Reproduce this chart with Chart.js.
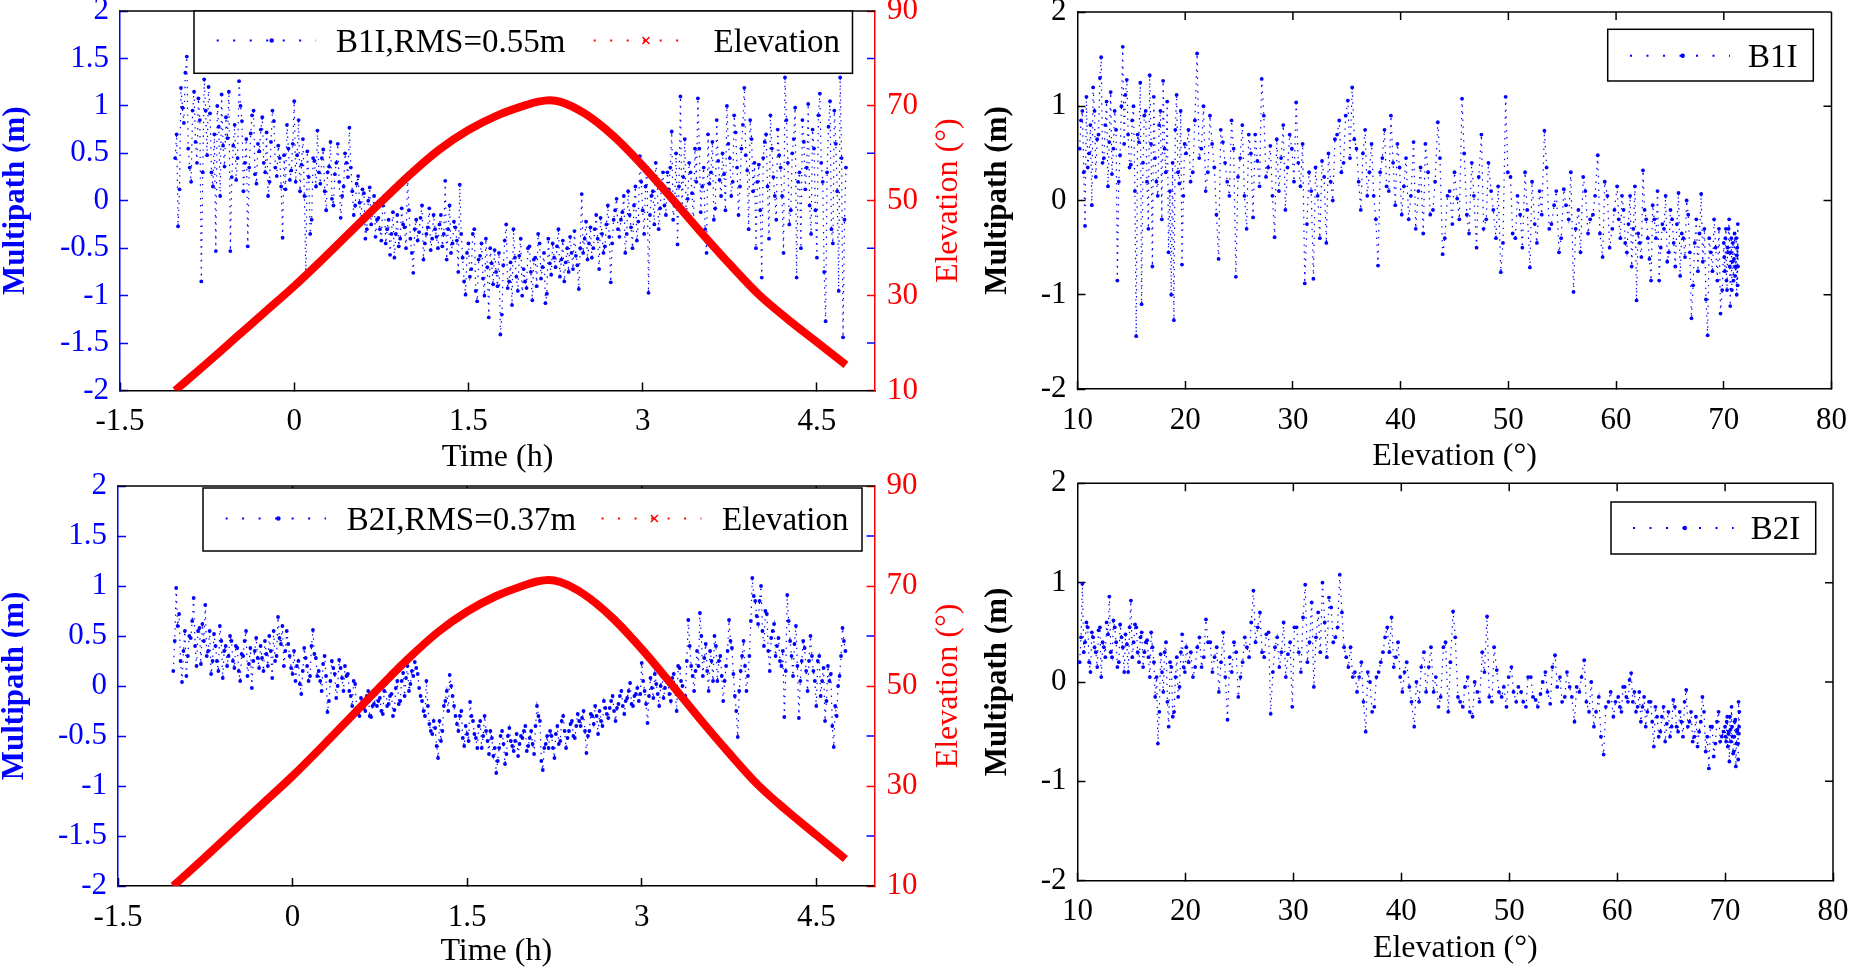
<!DOCTYPE html>
<html>
<head>
<meta charset="utf-8">
<title>B1I / B2I multipath vs time and elevation</title>
<script src="https://cdn.jsdelivr.net/npm/chart.js"></script>
<style>
  body { margin: 0; background: #fff; }
  #fig { position: relative; width: 1850px; height: 969px; overflow: hidden; background: #fff; }
  #fig canvas { position: absolute; }
</style>
</head>
<body>
<div id="fig">
  <canvas id="c1" width="975" height="480" style="left:0px;top:0px"></canvas>
  <canvas id="c2" width="875" height="480" style="left:975px;top:0px"></canvas>
  <canvas id="c3" width="975" height="499" style="left:0px;top:470px"></canvas>
  <canvas id="c4" width="875" height="499" style="left:975px;top:470px"></canvas>
</div>
<script>
// ---- tick labels ----
const timeTicks = [-1.5, 0, 1.5, 3, 4.5];
const elevXTicks = [10, 20, 30, 40, 50, 60, 70, 80];
const mpTicksTime = [-2, -1.5, -1, -0.5, 0, 0.5, 1, 1.5, 2];
const mpTicksElev = [-2, -1, 0, 1, 2];
const elevAxisTicks = [10, 30, 50, 70, 90];

// ---- elevation of the satellite pass (deg) vs time (h) ----
const elevCurveTime = [-1.025, -0.75, -0.5, -0.25, 0, 0.25, 0.5, 0.75, 1, 1.25, 1.5, 1.75, 2, 2.1, 2.2, 2.3, 2.5, 2.75, 3, 3.25, 3.5, 3.75, 4, 4.25, 4.5, 4.75];
const elevCurveDeg = [10, 15.8, 21.2, 26.6, 32.0, 37.8, 43.8, 49.8, 55.6, 60.8, 64.9, 68.0, 70.2, 70.9, 71.2, 70.8, 68.4, 63.6, 57.4, 50.5, 43.4, 36.6, 30.2, 25.0, 20.2, 15.4];

// ---- epochs (h), two interleaved sets ----
const epochTime = [
  -1.025,-1,-0.975,-0.95,-0.925,-0.9,-0.875,-0.85,-0.825,-0.8,
  -0.775,-0.75,-0.725,-0.7,-0.675,-0.65,-0.625,-0.6,-0.575,-0.55,
  -0.525,-0.5,-0.475,-0.45,-0.425,-0.4,-0.375,-0.35,-0.325,-0.3,
  -0.275,-0.25,-0.225,-0.2,-0.175,-0.15,-0.125,-0.1,-0.075,-0.05,
  -0.025,0,0.025,0.05,0.075,0.1,0.125,0.15,0.175,0.2,
  0.225,0.25,0.275,0.3,0.325,0.35,0.375,0.4,0.425,0.45,
  0.475,0.5,0.525,0.55,0.575,0.6,0.625,0.65,0.675,0.7,
  0.725,0.75,0.775,0.8,0.825,0.85,0.875,0.9,0.925,0.95,
  0.975,1,1.025,1.05,1.075,1.1,1.125,1.15,1.175,1.2,
  1.225,1.25,1.275,1.3,1.325,1.35,1.375,1.4,1.425,1.45,
  1.475,1.5,1.525,1.55,1.575,1.6,1.625,1.65,1.675,1.7,
  1.725,1.75,1.775,1.8,1.825,1.85,1.875,1.9,1.925,1.95,
  1.975,2,2.025,2.05,2.075,2.1,2.125,2.15,2.175,2.2,
  2.225,2.25,2.275,2.3,2.325,2.35,2.375,2.4,2.425,2.45,
  2.475,2.5,2.525,2.55,2.575,2.6,2.625,2.65,2.675,2.7,
  2.725,2.75,2.775,2.8,2.825,2.85,2.875,2.9,2.925,2.95,
  2.975,3,3.025,3.05,3.075,3.1,3.125,3.15,3.175,3.2,
  3.225,3.25,3.275,3.3,3.325,3.35,3.375,3.4,3.425,3.45,
  3.475,3.5,3.525,3.55,3.575,3.6,3.625,3.65,3.675,3.7,
  3.725,3.75,3.775,3.8,3.825,3.85,3.875,3.9,3.925,3.95,
  3.975,4,4.025,4.05,4.075,4.1,4.125,4.15,4.175,4.2,
  4.225,4.25,4.275,4.3,4.325,4.35,4.375,4.4,4.425,4.45,
  4.475,4.5,4.525,4.55,4.575,4.6,4.625,4.65,4.675,4.7,
  4.725,4.75
];
const epochTimeB = [
  -1.0125,-0.9875,-0.9625,-0.9375,-0.9125,-0.8875,-0.8625,-0.8375,-0.8125,-0.7875,
  -0.7625,-0.7375,-0.7125,-0.6875,-0.6625,-0.6375,-0.6125,-0.5875,-0.5625,-0.5375,
  -0.5125,-0.4875,-0.4625,-0.4375,-0.4125,-0.3875,-0.3625,-0.3375,-0.3125,-0.2875,
  -0.2625,-0.2375,-0.2125,-0.1875,-0.1625,-0.1375,-0.1125,-0.0875,-0.0625,-0.0375,
  -0.0125,0.0125,0.0375,0.0625,0.0875,0.1125,0.1375,0.1625,0.1875,0.2125,
  0.2375,0.2625,0.2875,0.3125,0.3375,0.3625,0.3875,0.4125,0.4375,0.4625,
  0.4875,0.5125,0.5375,0.5625,0.5875,0.6125,0.6375,0.6625,0.6875,0.7125,
  0.7375,0.7625,0.7875,0.8125,0.8375,0.8625,0.8875,0.9125,0.9375,0.9625,
  0.9875,1.0125,1.0375,1.0625,1.0875,1.1125,1.1375,1.1625,1.1875,1.2125,
  1.2375,1.2625,1.2875,1.3125,1.3375,1.3625,1.3875,1.4125,1.4375,1.4625,
  1.4875,1.5125,1.5375,1.5625,1.5875,1.6125,1.6375,1.6625,1.6875,1.7125,
  1.7375,1.7625,1.7875,1.8125,1.8375,1.8625,1.8875,1.9125,1.9375,1.9625,
  1.9875,2.0125,2.0375,2.0625,2.0875,2.1125,2.1375,2.1625,2.1875,2.2125,
  2.2375,2.2625,2.2875,2.3125,2.3375,2.3625,2.3875,2.4125,2.4375,2.4625,
  2.4875,2.5125,2.5375,2.5625,2.5875,2.6125,2.6375,2.6625,2.6875,2.7125,
  2.7375,2.7625,2.7875,2.8125,2.8375,2.8625,2.8875,2.9125,2.9375,2.9625,
  2.9875,3.0125,3.0375,3.0625,3.0875,3.1125,3.1375,3.1625,3.1875,3.2125,
  3.2375,3.2625,3.2875,3.3125,3.3375,3.3625,3.3875,3.4125,3.4375,3.4625,
  3.4875,3.5125,3.5375,3.5625,3.5875,3.6125,3.6375,3.6625,3.6875,3.7125,
  3.7375,3.7625,3.7875,3.8125,3.8375,3.8625,3.8875,3.9125,3.9375,3.9625,
  3.9875,4.0125,4.0375,4.0625,4.0875,4.1125,4.1375,4.1625,4.1875,4.2125,
  4.2375,4.2625,4.2875,4.3125,4.3375,4.3625,4.3875,4.4125,4.4375,4.4625,
  4.4875,4.5125,4.5375,4.5625,4.5875,4.6125,4.6375,4.6625,4.6875,4.7125,
  4.7375
];

// ---- B1I multipath (m) vs time ----
const b1iByTime = [
  0.45,-0.27,1.19,0.82,1.52,0.35,0.95,0.62,1.08,-0.85,
  1.28,0.48,0.92,0.15,-0.53,0.78,1.12,0.36,0.66,-0.53,
  0.58,0.22,1.26,0.84,0.40,-0.48,0.71,0.95,0.18,0.52,
  0.88,0.30,0.05,0.62,0.84,0.26,0.45,-0.39,0.12,0.55,
  0.32,1.05,0.48,0.10,0.65,-0.81,0.25,-0.20,0.42,0.74,
  0.18,0.54,-0.10,0.36,0.02,0.28,0.60,-0.18,0.15,0.40,
  0.77,0.10,-0.05,0.26,-0.22,0.08,-0.30,0.14,-0.12,-0.38,
  -0.18,-0.42,0.05,-0.30,-0.57,-0.12,-0.35,-0.48,-0.08,-0.28,
  0.28,-0.40,-0.76,-0.20,-0.33,-0.05,-0.45,-0.28,-0.52,-0.15,
  -0.38,-0.25,-0.48,0.21,-0.30,-0.55,-0.22,-0.42,0.17,-0.60,
  -0.99,-0.45,-0.72,-0.30,-1.06,-0.58,-0.82,-0.40,-1.23,-0.66,
  -0.52,-0.90,-1.41,-0.68,-0.25,-0.85,-1.10,-0.60,-0.95,-0.40,
  -0.72,-0.92,-0.48,-1.05,-0.60,-0.35,-0.82,-0.55,-0.98,-0.66,
  -0.45,-0.70,-0.30,-0.62,-0.85,-0.50,-0.38,-0.72,-0.58,-0.93,
  0.07,-0.40,-0.62,-0.28,-0.50,-0.15,-0.72,-0.35,-0.48,-0.05,
  -0.86,-0.20,0.02,-0.38,-0.12,-0.55,0.10,-0.28,-0.05,-0.42,
  0.47,-0.10,0.15,-0.97,0.05,-0.25,0.22,-0.08,0.30,-0.15,
  0.12,0.73,-0.05,-0.46,1.10,0.25,-0.18,0.40,0.08,0.55,
  1.08,-0.12,0.35,-0.55,0.18,0.62,-0.08,0.42,0.05,0.28,
  1.00,0.45,0.20,0.72,-0.15,0.55,1.19,0.32,0.85,0.10,
  -0.50,0.38,-0.81,0.62,0.15,0.90,0.25,-0.20,0.48,0.05,
  1.30,0.40,-0.10,0.65,-0.81,0.30,0.85,0.12,1.02,-0.35,
  0.55,-0.60,1.13,0.20,-1.27,0.78,-0.30,0.95,0.10,1.30,
  -1.44,0.35
];
const b1iByTimeB = [
  0.70,0.12,0.98,1.35,0.55,0.20,1.15,0.40,0.85,0.30,
  0.95,1.20,0.30,0.70,1.00,0.05,0.58,0.88,1.15,0.25,
  0.80,0.45,1.00,0.10,0.65,0.35,0.90,0.28,0.60,0.75,
  0.40,0.72,0.20,0.95,0.35,0.58,0.15,0.48,0.80,0.22,
  0.60,0.20,0.85,0.38,0.05,0.52,-0.35,0.45,0.15,0.30,
  0.45,0.10,0.30,0.62,-0.05,0.40,0.20,0.05,0.50,0.25,
  0.35,-0.15,0.18,-0.02,0.12,-0.40,0.00,-0.25,0.05,-0.20,
  -0.30,-0.05,-0.45,-0.20,-0.35,-0.60,-0.15,-0.40,-0.25,-0.50,
  -0.10,-0.55,-0.30,-0.42,-0.18,-0.62,-0.35,-0.08,-0.40,-0.30,
  -0.50,-0.15,-0.35,-0.62,-0.05,-0.45,-0.28,-0.75,-0.35,-0.85,
  -0.55,-0.80,-0.35,-0.95,-0.62,-0.45,-1.00,-0.70,-0.50,-0.88,
  -0.75,-0.55,-1.20,-0.42,-0.92,-0.65,-0.30,-0.80,-0.58,-1.00,
  -0.85,-0.50,-0.75,-0.62,-0.90,-0.45,-0.70,-1.08,-0.40,-0.78,
  -0.60,-0.48,-0.80,-0.42,-0.65,-0.75,-0.55,-0.32,-0.68,-0.50,
  -0.55,-0.22,-0.45,-0.60,-0.30,-0.40,-0.18,-0.55,-0.25,-0.38,
  -0.45,-0.10,-0.30,-0.20,0.05,-0.35,-0.15,-0.50,0.15,-0.22,
  0.20,-0.35,0.35,-0.15,0.10,0.40,-0.30,0.18,-0.05,0.30,
  0.35,-0.20,0.50,0.15,-0.10,0.65,0.02,0.30,-0.25,0.20,
  0.55,0.15,-0.30,0.70,0.30,-0.20,0.85,0.22,0.50,-0.10,
  0.60,0.05,0.90,0.35,0.15,0.80,0.48,-0.30,0.65,0.40,
  0.20,-0.10,0.45,0.70,-0.40,0.55,0.05,0.75,0.35,-0.55,
  0.85,-0.25,0.50,0.98,0.20,-0.50,0.62,0.35,-0.05,0.75,
  -0.10,0.90,0.40,-0.75,0.30,1.05,-0.45,0.60,-0.95,0.45,
  -0.20
];

// ---- B2I multipath (m) vs time ----
const b2iByTime = [
  0.15,0.98,0.72,0.04,0.55,0.30,0.48,0.88,0.20,0.58,
  0.62,0.81,0.35,0.12,0.52,0.25,0.60,0.08,0.40,0.30,
  0.45,0.18,0.38,0.05,0.30,0.55,0.22,-0.02,0.35,0.28,
  0.40,0.15,0.32,0.50,0.08,0.25,0.69,0.42,0.20,0.55,
  0.30,0.12,0.05,0.25,-0.08,0.38,0.20,0.10,0.56,0.28,
  0.15,-0.05,0.30,-0.26,0.05,0.18,-0.12,0.26,0.08,0.20,
  0.12,-0.10,0.05,-0.22,-0.30,-0.15,-0.25,-0.05,-0.31,-0.18,
  -0.20,-0.12,-0.28,0.02,-0.18,-0.08,-0.24,0.05,-0.15,0.13,
  0.08,-0.05,0.15,0.24,0.12,-0.10,-0.25,0.05,-0.38,-0.48,
  -0.42,-0.72,-0.55,-0.20,-0.05,0.11,-0.10,-0.30,-0.45,-0.25,
  -0.60,-0.48,-0.16,-0.35,-0.52,-0.40,-0.62,-0.30,-0.55,-0.45,
  -0.70,-0.87,-0.62,-0.45,-0.78,-0.50,-0.55,-0.65,-0.48,-0.58,
  -0.52,-0.40,-0.60,-0.45,-0.68,-0.20,-0.35,-0.84,-0.58,-0.62,
  -0.50,-0.72,-0.40,-0.55,-0.30,-0.62,-0.45,-0.35,-0.52,-0.28,
  -0.40,-0.25,-0.67,-0.45,-0.30,-0.20,-0.48,-0.35,-0.15,-0.28,
  -0.22,-0.10,-0.35,-0.18,-0.05,-0.28,-0.12,0.03,-0.20,-0.08,
  -0.15,0.23,-0.05,-0.37,0.08,-0.12,0.02,-0.20,0.10,-0.02,
  0.05,-0.15,0.12,-0.25,0.18,0.00,-0.10,0.66,0.20,-0.05,
  0.35,0.73,0.10,0.42,-0.05,0.25,0.50,0.05,0.30,-0.15,
  0.20,0.66,0.38,-0.10,-0.51,0.15,0.45,-0.05,0.30,1.08,
  0.85,0.62,1.00,0.40,0.72,0.15,0.55,0.30,0.48,0.20,
  -0.31,0.91,0.45,0.10,0.60,-0.32,0.25,0.38,-0.05,0.50,
  0.15,-0.20,0.30,0.05,-0.35,0.20,0.12,-0.61,-0.30,0.10,
  0.58,0.35
];
const b2iByTimeB = [
  0.45,0.60,0.25,0.35,0.10,0.50,0.65,0.40,0.55,0.22,
  0.45,0.30,0.55,0.25,0.40,0.15,0.45,0.35,0.20,0.50,
  0.25,0.40,0.15,0.32,0.45,0.10,0.38,0.25,0.48,0.18,
  0.28,0.45,0.20,0.35,0.55,0.30,0.48,0.60,0.35,0.42,
  0.18,0.35,0.20,0.02,0.15,0.28,0.05,0.40,0.32,0.10,
  0.05,0.22,0.10,-0.15,0.25,0.12,0.00,0.18,-0.05,0.10,
  -0.05,-0.20,0.02,-0.28,-0.12,-0.22,-0.10,-0.30,-0.20,-0.08,
  -0.15,-0.25,-0.05,-0.20,-0.10,-0.30,-0.02,-0.18,0.05,-0.10,
  0.20,0.02,0.10,0.18,-0.02,-0.15,-0.30,-0.20,-0.45,-0.35,
  -0.60,-0.35,-0.45,-0.15,-0.25,0.00,-0.20,-0.38,-0.30,-0.52,
  -0.40,-0.55,-0.30,-0.48,-0.62,-0.35,-0.50,-0.45,-0.68,-0.52,
  -0.62,-0.75,-0.50,-0.58,-0.68,-0.42,-0.60,-0.55,-0.70,-0.50,
  -0.45,-0.65,-0.52,-0.58,-0.40,-0.30,-0.75,-0.62,-0.50,-0.45,
  -0.62,-0.48,-0.58,-0.35,-0.45,-0.52,-0.38,-0.50,-0.40,-0.35,
  -0.32,-0.45,-0.50,-0.28,-0.38,-0.30,-0.25,-0.40,-0.22,-0.32,
  -0.15,-0.25,-0.22,-0.10,-0.20,-0.15,-0.05,-0.18,-0.10,-0.02,
  -0.08,0.05,-0.18,-0.10,-0.02,0.12,-0.08,0.00,-0.12,0.05,
  -0.08,0.08,-0.05,0.20,0.05,-0.15,0.25,0.40,0.10,0.15,
  0.20,0.50,0.28,0.15,0.35,0.05,0.40,0.25,0.10,0.05,
  0.35,0.45,0.12,-0.25,-0.05,0.30,0.20,0.10,0.65,0.90,
  0.70,0.85,0.55,0.75,0.35,0.48,0.62,0.40,0.25,0.35,
  0.15,0.65,0.30,0.42,0.20,0.05,0.45,0.15,0.25,0.30,
  0.05,0.25,-0.10,0.18,-0.15,0.05,-0.40,-0.20,0.00,0.30,
  0.45
];

// ---- elevation (deg) of the points in the right-hand panels ----
const elevBins = [
  10.2,10.45,10.7,10.95,11.2,11.45,11.7,11.95,12.2,12.45,
  12.7,12.95,13.2,13.45,13.7,13.95,14.2,14.45,14.7,14.95,
  15.2,15.45,15.7,15.95,16.2,16.45,16.7,16.95,17.2,17.45,
  17.7,17.95,18.2,18.45,18.7,18.95,19.2,19.45,19.7,19.95,
  20.3,20.7,21.1,21.5,21.9,22.3,22.7,23.1,23.5,23.9,
  24.3,24.7,25.1,25.5,25.9,26.3,26.7,27.1,27.5,27.9,
  28.3,28.7,29.1,29.5,29.9,
  30.3,30.7,31.1,31.5,31.9,32.3,32.7,33.1,33.5,33.9,
  34.3,34.7,35.1,35.5,35.9,36.3,36.7,37.1,37.5,37.9,
  38.3,38.7,39.1,39.5,39.9,
  40.3,40.75,41.2,41.65,42.1,42.55,43.0,43.45,43.9,44.35,
  44.8,45.25,45.7,46.15,46.6,47.05,47.5,47.95,48.4,48.85,
  49.3,49.75,
  50.2,50.65,51.1,51.55,52.0,52.45,52.9,53.35,53.8,54.25,
  54.7,55.15,55.6,56.05,56.5,56.95,57.4,57.85,58.3,58.75,
  59.2,59.65,
  60.1,60.4,60.7,61.0,61.3,61.6,61.9,62.2,62.5,62.8,
  63.1,63.4,63.7,64.0,64.3,64.6,64.9,65.2,65.5,65.8,
  66.1,66.4,66.7,67.0,67.3,67.6,67.9,68.2,68.5,68.8,
  69.1,69.4,69.7,
  70.0,70.1,70.2,70.3,70.4,70.5,70.6,70.7,70.8,70.9,
  71.0,71.1,71.2,71.25,71.3
];
const elevBinsB = [
  10.33,10.58,10.83,11.08,11.33,11.58,11.83,12.08,12.33,12.58,
  12.83,13.08,13.33,13.58,13.83,14.08,14.33,14.58,14.83,15.08,
  15.33,15.58,15.83,16.08,16.33,16.58,16.83,17.08,17.33,17.58,
  17.83,18.08,18.33,18.58,18.83,19.08,19.33,19.58,19.83,20.08,
  20.5,20.9,21.3,21.7,22.1,22.5,22.9,23.3,23.7,24.1,
  24.5,24.9,25.3,25.7,26.1,26.5,26.9,27.3,27.7,28.1,
  28.5,28.9,29.3,29.7,30.1,
  30.5,30.9,31.3,31.7,32.1,32.5,32.9,33.3,33.7,34.1,
  34.5,34.9,35.3,35.7,36.1,36.5,36.9,37.3,37.7,38.1,
  38.5,38.9,39.3,39.7,40.1,
  40.5,40.95,41.4,41.85,42.3,42.75,43.2,43.65,44.1,44.55,
  45.0,45.45,45.9,46.35,46.8,47.25,47.7,48.15,48.6,49.05,
  49.5,49.95,
  50.4,50.85,51.3,51.75,52.2,52.65,53.1,53.55,54.0,54.45,
  54.9,55.35,55.8,56.25,56.7,57.15,57.6,58.05,58.5,58.95,
  59.4,59.85,
  60.25,60.55,60.85,61.15,61.45,61.75,62.05,62.35,62.65,62.95,
  63.25,63.55,63.85,64.15,64.45,64.75,65.05,65.35,65.65,65.95,
  66.25,66.55,66.85,67.15,67.45,67.75,68.05,68.35,68.65,68.95,
  69.25,69.55,69.85,
  70.05,70.15,70.25,70.35,70.45,70.55,70.65,70.75,70.85,70.95,
  71.05,71.15,71.22,71.28,71.32
];

// ---- B1I multipath (m) vs elevation ----
const b1iByElev = [
  0.55,0.95,-0.27,0.35,0.80,1.20,0.25,0.70,1.52,0.45,
  1.05,0.62,0.28,0.95,-0.85,0.48,1.63,1.12,0.70,0.38,
  1.00,-1.44,0.62,-1.10,0.90,0.20,1.33,-0.70,0.45,0.05,
  0.95,1.27,0.30,-0.55,-1.00,-1.27,1.12,0.18,-0.68,0.60,
  0.75,0.30,1.56,0.55,0.10,0.90,0.35,-0.62,0.62,0.20,
  0.85,-0.81,0.45,0.05,0.70,-0.18,0.42,1.29,0.25,0.58,
  -0.39,0.10,0.80,0.35,0.55,
  1.04,0.15,-0.88,0.30,-0.83,0.05,0.42,-0.45,0.20,0.65,
  0.85,0.40,1.06,1.20,0.55,-0.10,0.75,0.30,0.05,-0.69,
  0.45,0.15,0.90,-0.05,0.35,
  0.15,-0.20,0.62,0.10,-0.35,0.30,-0.10,0.83,-0.57,0.05,
  -0.25,0.02,1.08,-0.15,0.40,-0.50,0.70,-0.20,0.10,-0.40,
  -0.76,1.10,
  0.25,-0.40,-0.15,0.30,-0.71,-0.25,0.10,0.74,-0.30,-0.05,
  -0.55,0.12,-0.20,-0.97,-0.10,0.25,-0.35,-0.15,0.48,-0.60,
  0.05,-0.30,
  0.15,-0.40,-0.10,-0.55,0.05,-0.30,-1.06,-0.45,0.32,-0.20,
  -0.62,-0.05,-0.40,-0.85,-0.25,0.05,-0.55,-0.20,-0.70,0.08,
  -0.35,-0.60,-0.15,-1.25,-0.45,-0.75,0.07,-0.30,-1.43,-0.55,
  -0.20,-0.85,-1.20,
  -0.45,-0.75,-0.30,-0.95,-0.55,-0.20,-1.12,-0.40,-0.65,-0.85,
  -0.35,-0.70,-1.00,-0.50,-0.25
];
const b1iByElevB = [
  0.85,0.30,1.10,0.50,-0.05,0.95,0.65,1.30,0.40,0.80,
  0.15,1.15,0.55,0.75,0.20,1.00,0.60,1.28,0.35,0.85,
  0.10,0.70,1.25,0.40,0.95,-0.30,0.60,1.10,0.20,0.80,
  -0.20,0.55,1.05,0.10,0.40,0.75,0.30,0.95,0.05,0.50,
  0.20,0.85,0.45,1.00,0.30,0.60,-0.15,0.75,0.40,0.05,
  0.55,0.25,0.80,-0.30,0.50,0.70,0.15,0.90,0.35,0.05,
  0.65,0.45,-0.10,0.70,0.20,
  0.40,0.60,-0.25,0.10,0.35,-0.40,0.25,0.50,0.00,0.70,
  0.30,0.90,0.45,0.65,0.20,0.50,0.05,0.60,-0.20,0.30,
  0.75,0.10,0.40,0.60,-0.15,
  0.45,0.05,-0.30,0.35,0.60,-0.15,0.20,0.45,-0.40,0.10,
  0.30,-0.20,0.50,-0.35,0.05,0.25,-0.30,0.40,-0.10,0.15,
  -0.45,0.30,
  -0.35,0.05,-0.50,-0.10,0.20,-0.45,-0.15,0.35,-0.25,0.10,
  -0.40,-0.05,0.30,-0.30,-0.55,0.10,-0.20,0.05,-0.35,0.20,
  -0.50,-0.10,
  -0.20,0.05,-0.45,-0.25,-0.70,0.15,-0.35,-0.60,-0.10,-0.40,
  -0.85,-0.20,0.10,-0.50,-0.30,-0.65,-0.10,-0.45,-0.25,-0.80,
  -0.40,0.00,-0.55,-0.90,-0.20,-0.35,-0.65,-1.05,-0.40,-0.75,
  -0.50,-0.30,-0.95,
  -0.60,-0.40,-0.85,-0.50,-0.30,-0.70,-0.55,-0.95,-0.45,-0.62,
  -0.80,-0.40,-0.58,-0.90,-0.70
];

// ---- B2I multipath (m) vs elevation ----
const b2iByElev = [
  0.20,0.99,0.40,0.55,0.10,0.45,0.30,0.52,0.05,0.35,
  0.60,0.86,0.25,0.55,0.15,0.58,0.35,0.48,0.10,0.82,
  0.40,0.55,0.20,0.50,0.30,0.42,0.05,0.35,-0.15,-0.62,
  0.28,-0.10,0.40,-0.45,0.15,-0.30,0.25,-0.05,0.48,0.10,
  0.20,0.05,0.35,0.15,0.63,0.40,0.25,-0.10,0.50,-0.38,
  0.10,0.30,0.05,0.45,0.25,0.92,0.55,0.30,0.48,-0.32,
  0.35,0.15,0.60,0.28,-0.25,
  0.55,0.10,0.98,0.40,-0.05,0.70,1.00,0.25,0.75,0.45,
  1.08,0.35,0.15,0.05,-0.10,0.20,-0.50,0.00,-0.25,0.10,
  0.30,0.55,0.65,0.25,0.05,
  0.10,-0.05,-0.45,-0.20,0.30,0.15,-0.10,-0.25,0.35,-0.30,
  0.71,-0.15,-0.25,0.05,-0.35,-0.10,0.30,0.66,-0.20,0.12,
  -0.15,-0.25,
  0.15,-0.20,-0.10,-0.25,0.05,-0.18,-0.12,0.10,-0.22,0.27,
  0.05,-0.15,-0.05,-0.40,-0.10,0.22,-0.30,-0.45,-0.15,-0.73,
  -0.20,-0.35,
  -0.15,-0.30,-0.05,-0.20,0.09,-0.10,-0.25,-0.40,-0.15,-0.30,
  -0.20,-0.65,-0.35,-0.50,-0.25,-0.42,-0.55,-0.18,-0.45,-0.30,
  -0.55,-0.08,-0.40,-0.60,-0.35,-0.50,-0.15,-0.70,-0.87,-0.45,
  -0.62,-0.30,-0.55,
  -0.45,-0.60,-0.35,-0.52,-0.80,-0.48,-0.25,-0.55,-0.70,-0.40,
  -0.85,-0.50,-0.62,-0.20,-0.45
];
const b2iByElevB = [
  0.45,0.30,0.60,0.20,0.50,0.35,0.15,0.55,0.40,0.25,
  0.48,0.30,0.62,0.40,0.20,0.45,0.10,0.38,0.55,0.25,
  0.58,0.30,0.45,0.15,0.40,0.25,0.50,0.20,0.05,-0.30,
  0.10,0.30,-0.20,0.20,-0.35,0.05,-0.15,0.30,0.15,0.35,
  0.30,0.15,0.45,0.25,0.40,0.10,0.35,0.20,0.05,0.25,
  0.40,-0.15,0.20,0.35,0.60,0.40,0.70,0.25,0.50,0.10,
  0.45,0.30,0.05,0.40,0.55,
  0.30,0.65,0.20,0.80,0.45,0.30,0.60,0.85,0.40,0.55,
  0.70,0.25,0.35,0.10,0.05,-0.20,0.10,-0.30,0.05,0.20,
  0.45,0.30,0.15,0.40,-0.10,
  0.20,-0.20,0.00,0.15,-0.10,0.35,0.05,-0.15,0.40,0.20,
  0.45,-0.20,-0.05,-0.30,0.00,-0.20,0.10,-0.15,0.35,-0.10,
  -0.05,0.05,
  -0.10,-0.05,-0.20,0.05,-0.15,-0.25,0.00,-0.10,0.15,-0.05,
  -0.20,0.10,-0.15,-0.05,0.05,-0.20,0.00,-0.30,-0.55,-0.25,
  -0.10,-0.20,
  -0.25,-0.05,-0.15,0.02,-0.20,-0.30,-0.10,-0.25,-0.45,-0.20,
  -0.40,-0.25,-0.55,-0.35,-0.60,-0.30,-0.45,-0.25,-0.50,-0.40,
  -0.20,-0.45,-0.30,-0.55,-0.65,-0.40,-0.30,-0.55,-0.45,-0.75,
  -0.40,-0.60,-0.50,
  -0.55,-0.40,-0.65,-0.50,-0.35,-0.60,-0.45,-0.72,-0.55,-0.38,
  -0.62,-0.48,-0.78,-0.52,-0.30
];

// ---------------------------------------------------------------
const BLUE = '#0000ff', RED = '#ff0000', BLACK = '#000000';
const FONT = "'Liberation Serif', 'Times New Roman', serif";
Chart.defaults.font.family = FONT;

function pairs(xs, ys) {
  return xs.map((x, i) => ({ x: x, y: ys[i] }));
}
// merge the two interleaved sets into one sequence ordered along x
function merged(xa, ya, xb, yb) {
  return pairs(xa, ya).concat(pairs(xb, yb)).sort((p, q) => p.x - q.x);
}

// box frame, mirrored inward ticks and a right-hand title reading upward
const framePlugin = {
  id: 'frame',
  afterDraw(chart, args, o) {
    const { ctx, chartArea: a, scales } = chart;
    ctx.save();
    ctx.lineWidth = 1.5;
    ctx.strokeStyle = BLACK;
    ctx.beginPath();
    ctx.moveTo(a.left, a.top); ctx.lineTo(a.right, a.top);
    if (o.rightFrame) { ctx.moveTo(a.right, a.top); ctx.lineTo(a.right, a.bottom); }
    ctx.stroke();
    ctx.beginPath();
    o.topTicks.forEach(v => {
      const x = scales.x.getPixelForValue(v);
      ctx.moveTo(x, a.top); ctx.lineTo(x, a.top + 8);
    });
    ctx.stroke();
    ctx.strokeStyle = o.rightTickColor;
    ctx.beginPath();
    o.rightTicks.forEach(v => {
      const y = scales.y.getPixelForValue(v);
      ctx.moveTo(a.right, y); ctx.lineTo(a.right - 8, y);
    });
    ctx.stroke();
    if (o.rightTitle) {
      ctx.translate(o.rightTitleX, (a.top + a.bottom) / 2);
      ctx.rotate(-Math.PI / 2);
      ctx.fillStyle = RED;
      ctx.font = '32px ' + FONT;
      ctx.textAlign = 'center';
      ctx.textBaseline = 'alphabetic';
      ctx.fillText(o.rightTitle, 0, 7.5);
    }
    ctx.restore();
  }
};

// MATLAB style legend box inside the axes
const boxLegendPlugin = {
  id: 'boxLegend',
  afterDraw(chart, args, o) {
    const ctx = chart.ctx, b = o.box;
    ctx.save();
    ctx.fillStyle = '#fff';
    ctx.fillRect(b.x, b.y, b.w, b.h);
    ctx.strokeStyle = BLACK;
    ctx.lineWidth = 1.5;
    ctx.strokeRect(b.x, b.y, b.w, b.h);
    o.items.forEach(it => {
      ctx.strokeStyle = it.color;
      ctx.lineWidth = 2;
      ctx.setLineDash([2, 14.5]);
      ctx.beginPath(); ctx.moveTo(it.x0, it.y); ctx.lineTo(it.x1, it.y); ctx.stroke();
      ctx.setLineDash([]);
      if (it.marker === 'dot') {
        ctx.fillStyle = it.color;
        ctx.beginPath(); ctx.arc(it.mx, it.y, 2.2, 0, Math.PI * 2); ctx.fill();
      } else {
        ctx.lineWidth = 1.5;
        ctx.beginPath();
        ctx.moveTo(it.mx - 3.5, it.y - 3.5); ctx.lineTo(it.mx + 3.5, it.y + 3.5);
        ctx.moveTo(it.mx - 3.5, it.y + 3.5); ctx.lineTo(it.mx + 3.5, it.y - 3.5);
        ctx.stroke();
      }
      ctx.fillStyle = BLACK;
      ctx.font = '33px ' + FONT;
      ctx.textAlign = 'left';
      ctx.textBaseline = 'alphabetic';
      ctx.fillText(it.text, it.tx, it.y + 11);
    });
    ctx.restore();
  }
};

function tickList(arr) {
  return s => { s.ticks = arr.map(v => ({ value: v })); };
}

function axis(o) {
  return {
    type: 'linear',
    position: o.position,
    min: o.min, max: o.max,
    afterBuildTicks: tickList(o.ticks),
    afterFit: s => {
      // fixed axis band, and no extra room for label overhang
      if (s.isHorizontal()) { s.height = o.size; s.paddingLeft = 0; s.paddingRight = 0; }
      else { s.width = o.size; s.paddingTop = 0; s.paddingBottom = 0; }
    },
    grid: { drawOnChartArea: false, tickLength: -8, tickColor: o.color, tickWidth: 1.5 },
    border: { color: o.color, width: 1.5 },
    ticks: { color: o.color, padding: o.pad, autoSkip: false, maxRotation: 0,
             font: { size: 31 }, callback: v => String(v) },
    title: o.title ? {
      display: true, text: o.title, color: o.color,
      font: { size: o.bold ? 31 : 32, weight: o.bold ? 'bold' : 'normal', lineHeight: 1 },
      padding: o.titlePad
    } : { display: false }
  };
}

function blueSet(data) {
  return {
    data: data, yAxisID: 'y', order: 1,
    showLine: true, borderColor: BLUE, borderWidth: 1.2, borderDash: [1.4, 5.5],
    pointRadius: 1.9, pointBackgroundColor: BLUE, pointBorderWidth: 0, pointHoverRadius: 0
  };
}

function elevSet() {
  return {
    data: pairs(elevCurveTime, elevCurveDeg), yAxisID: 'y2', order: 0,
    showLine: true, borderColor: RED, borderWidth: 8, pointRadius: 0,
    cubicInterpolationMode: 'monotone'
  };
}

function timePanel(id, series, p) {
  new Chart(document.getElementById(id), {
    type: 'scatter',
    data: { datasets: [elevSet(), blueSet(series)] },
    options: {
      responsive: false, animation: false, events: [], devicePixelRatio: 1,
      layout: { padding: { top: p.top, left: 0, right: 0, bottom: 0 } },
      scales: {
        x: axis({ position: 'bottom', min: -1.5, max: 5, ticks: timeTicks, size: p.xH, color: BLACK,
                  pad: 21, title: 'Time (h)', titlePad: { top: 0, bottom: p.xTitlePad } }),
        y: axis({ position: 'left', min: -2, max: 2, ticks: mpTicksTime, size: p.yW, color: BLUE,
                  pad: 19, title: 'Multipath (m)', bold: true, titlePad: { top: p.yTitlePad, bottom: 0 } }),
        y2: axis({ position: 'right', min: 10, max: 90, ticks: elevAxisTicks, size: p.y2W, color: RED,
                   pad: 20 })
      },
      plugins: {
        legend: { display: false }, tooltip: { enabled: false },
        frame: { topTicks: [0, 1.5, 3, 4.5], rightFrame: false, rightTicks: [1.5, 0.5, -0.5, -1.5],
                 rightTickColor: BLUE, rightTitle: 'Elevation (°)', rightTitleX: 949 },
        boxLegend: p.legend
      }
    },
    plugins: [framePlugin, boxLegendPlugin]
  });
}

function elevPanel(id, series, p) {
  new Chart(document.getElementById(id), {
    type: 'scatter',
    data: { datasets: [blueSet(series)] },
    options: {
      responsive: false, animation: false, events: [], devicePixelRatio: 1,
      layout: { padding: { top: p.top, left: 0, right: p.right, bottom: 0 } },
      scales: {
        x: axis({ position: 'bottom', min: 10, max: 80, ticks: elevXTicks, size: p.xH, color: BLACK,
                  pad: 21, title: 'Elevation (°)', titlePad: { top: 0, bottom: p.xTitlePad } }),
        y: axis({ position: 'left', min: -2, max: 2, ticks: mpTicksElev, size: p.yW, color: BLACK,
                  pad: 19, title: 'Multipath (m)', bold: true, titlePad: { top: p.yTitlePad, bottom: 0 } })
      },
      plugins: {
        legend: { display: false }, tooltip: { enabled: false },
        frame: { topTicks: [20, 30, 40, 50, 60, 70], rightFrame: true, rightTicks: [-1, 0, 1],
                 rightTickColor: BLACK, rightTitle: null },
        boxLegend: p.legend
      }
    },
    plugins: [framePlugin, boxLegendPlugin]
  });
}

timePanel('c1', merged(epochTime, b1iByTime, epochTimeB, b1iByTimeB), {
  top: 11, xH: 89.5, yW: 120, y2W: 100, xTitlePad: 6.4, yTitlePad: 0.5,
  legend: {
    box: { x: 194, y: 11, w: 658.5, h: 62.3 },
    items: [
      { color: BLUE, marker: 'dot', x0: 216.7, x1: 316, mx: 271.7, y: 40.5, text: 'B1I,RMS=0.55m', tx: 336 },
      { color: RED, marker: 'cross', x0: 593.7, x1: 692, mx: 646, y: 40.5, text: 'Elevation', tx: 713.6 }
    ]
  }
});

elevPanel('c2', merged(elevBins, b1iByElev, elevBinsB, b1iByElevB), {
  top: 12, right: 18.5, xH: 91, yW: 102.5, xTitlePad: 7.3, yTitlePad: 7.5,
  legend: {
    box: { x: 632.7, y: 29.3, w: 205.6, h: 51.7 },
    items: [ { color: BLUE, marker: 'dot', x0: 655, x1: 755, mx: 707.7, y: 55.7, text: 'B1I', tx: 773 } ]
  }
});

timePanel('c3', merged(epochTime, b2iByTime, epochTimeB, b2iByTimeB), {
  top: 16, xH: 83, yW: 118, y2W: 100.5, xTitlePad: 1.7, yTitlePad: -1,
  legend: {
    box: { x: 203, y: 18, w: 659, h: 63 },
    items: [
      { color: BLUE, marker: 'dot', x0: 225.6, x1: 326, mx: 278.4, y: 48.5, text: 'B2I,RMS=0.37m', tx: 346.7 },
      { color: RED, marker: 'cross', x0: 601.6, x1: 701.5, mx: 654.4, y: 48.5, text: 'Elevation', tx: 722 }
    ]
  }
});

elevPanel('c4', merged(elevBins, b2iByElev, elevBinsB, b2iByElevB), {
  top: 13.3, right: 17, xH: 88.3, yW: 102.5, xTitlePad: 4.7, yTitlePad: 7,
  legend: {
    box: { x: 636, y: 32, w: 204.7, h: 52 },
    items: [ { color: BLUE, marker: 'dot', x0: 658, x1: 758.6, mx: 709.8, y: 58, text: 'B2I', tx: 775.8 } ]
  }
});
</script>
</body>
</html>
